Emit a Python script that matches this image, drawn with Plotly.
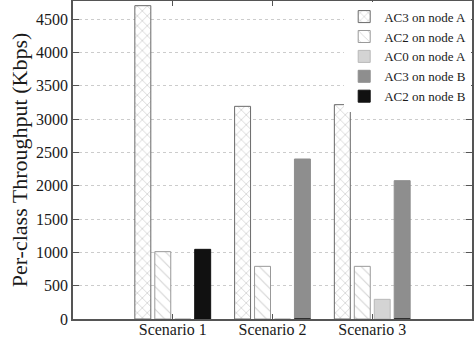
import plotly.graph_objects as go

scenarios = ["Scenario 1", "Scenario 2", "Scenario 3"]
series_names = ["AC3 on node A", "AC2 on node A", "AC0 on node A", "AC3 on node B", "AC2 on node B"]
ac3_node_a = [4700, 3190, 3215]
ac2_node_a = [1010, 790, 790]
ac0_node_a = [0, 0, 295]
ac3_node_b = [0, 2400, 2075]
ac2_node_b = [1045, 0, 0]
y_ticks = [0, 500, 1000, 1500, 2000, 2500, 3000, 3500, 4000, 4500]

font_family = "Liberation Serif"

fig = go.Figure()

fig.add_trace(go.Bar(
    name=series_names[0], x=scenarios, y=ac3_node_a, offsetgroup="0",
    marker=dict(color="white", line=dict(color="#6a6a6a", width=1),
                pattern=dict(shape="x", fgcolor="#777777", bgcolor="white", size=7, solidity=0.15)),
))
fig.add_trace(go.Bar(
    name=series_names[1], x=scenarios, y=ac2_node_a, offsetgroup="1",
    marker=dict(color="white", line=dict(color="#999999", width=1),
                pattern=dict(shape="\\", fgcolor="#a0a0a0", bgcolor="white", size=8, solidity=0.12)),
))
fig.add_trace(go.Bar(
    name=series_names[2], x=scenarios, y=ac0_node_a, offsetgroup="2",
    marker=dict(color="#d4d4d4", line=dict(color="#b8b8b8", width=1)),
))
fig.add_trace(go.Bar(
    name=series_names[3], x=scenarios, y=ac3_node_b, offsetgroup="3",
    marker=dict(color="#8e8e8e", line=dict(color="#8e8e8e", width=1)),
))
fig.add_trace(go.Bar(
    name=series_names[4], x=scenarios, y=ac2_node_b, offsetgroup="3",
    marker=dict(color="#111111", line=dict(color="#111111", width=1)),
))

fig.update_layout(
    width=474, height=338,
    margin=dict(l=73, r=2, t=1, b=19, autoexpand=False),
    paper_bgcolor="white", plot_bgcolor="white",
    barmode="group", bargap=0.2, bargroupgap=0.2,
    font=dict(family=font_family, size=16, color="#1a1a1a"),
    showlegend=True,
    legend=dict(x=0.998, xanchor="right", y=0.998, yanchor="top",
                bgcolor="white", borderwidth=0, font=dict(size=13),
                tracegroupgap=0, itemwidth=30),
)

fig.update_xaxes(
    type="category", range=[-1, 3],
    showline=True, linecolor="#555555", linewidth=1.5, mirror="ticks",
    ticks="inside", ticklen=5, tickcolor="#555555",
    showgrid=False, tickfont=dict(size=16), automargin=False,
    ticklabelstandoff=-5,
)
fig.update_yaxes(
    range=[0, 4770], tickvals=y_ticks,
    showline=True, linecolor="#555555", linewidth=1.5, mirror="ticks",
    ticks="inside", ticklen=6, tickcolor="#555555",
    showgrid=True, gridcolor="#cccccc", griddash="dot", gridwidth=1,
    zeroline=False, tickfont=dict(size=16),
    title=dict(text="Per-class Throughput (Kbps)", font=dict(size=22), standoff=2),
    automargin=False,
)

fig.write_html("out.html")
